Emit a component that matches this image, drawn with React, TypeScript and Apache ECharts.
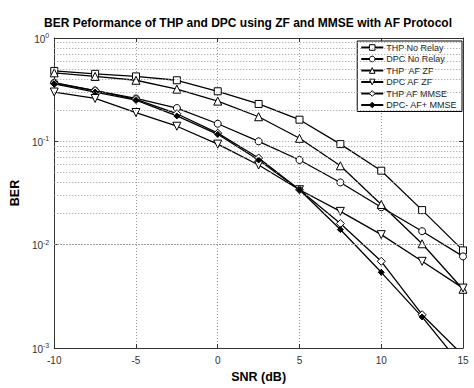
import React, { useEffect, useRef } from "react";
import * as echarts from "echarts";

const snr = [-10, -7.5, -5, -2.5, 0, 2.5, 5, 7.5, 10, 12.5, 15];
const thpNoRelay = [0.48, 0.45, 0.425, 0.39, 0.305, 0.23, 0.162, 0.094, 0.052, 0.0216, 0.0088];
const dpcNoRelay = [0.37, 0.31, 0.26, 0.21, 0.148, 0.1, 0.066, 0.04, 0.023, 0.0135, 0.0077];
const thpAfZf = [0.46, 0.425, 0.39, 0.32, 0.245, 0.173, 0.107, 0.058, 0.0245, 0.0102, 0.0037];
const dpcAfZf = [0.3, 0.26, 0.19, 0.14, 0.094, 0.059, 0.034, 0.021, 0.0125, 0.0069, 0.0038];
const thpAfMmse = [0.365, 0.31, 0.255, 0.185, 0.12, 0.069, 0.034, 0.016, 0.0069, 0.0021, 0.00085];
const dpcAfMmse = [0.36, 0.3, 0.25, 0.176, 0.117, 0.066, 0.034, 0.014, 0.0054, 0.002, 0.00065];
const seriesNames = ["THP No Relay", "DPC No Relay", "THP  AF ZF", "DPC AF ZF", "THP AF MMSE", "DPC- AF+ MMSE"];
const minorGrid = [0.2, 0.3, 0.4, 0.5, 0.6, 0.7, 0.8, 0.9, 0.02, 0.03, 0.04, 0.05, 0.06, 0.07, 0.08, 0.09, 0.002, 0.003, 0.004, 0.005, 0.006, 0.007, 0.008, 0.009];
const titleText = "BER Peformance of THP and DPC using ZF and MMSE with AF Protocol";

export default function App() {
  const ref = useRef<HTMLDivElement>(null);
  useEffect(() => {
    const chart = echarts.init(ref.current!, null, { renderer: "svg" });
    const font = "Liberation Sans, Arial, sans-serif";
    const filledFlags = [false, false, false, false, false, true];
    const mk = (name: string, data: number[], symbol: string, filled: boolean, rotate = 0, size = 7) => ({
      name,
      type: "line",
      data: snr.map((x, i) => [x, data[i]]),
      symbol,
      symbolSize: size,
      symbolRotate: rotate,
      showAllSymbol: true,
      color: "#000",
      lineStyle: { color: "#000", width: 1.3 },
      itemStyle: { color: filled ? "#000" : "#fff", borderColor: "#000", borderWidth: 1 },
      clip: true,
      z: 3,
    });
    const dotted = { color: "#999", type: [1, 2] as any, width: 1 };
    const axisCol = "#333";
    chart.setOption({
      animation: false,
      backgroundColor: "#fff",
      graphic: [
        {
          type: "text",
          x: 248,
          y: 23,
          style: {
            text: titleText,
            fontFamily: font,
            fontWeight: "bold",
            fontSize: 12,
            fill: "#000",
            textAlign: "center",
            textVerticalAlign: "middle",
          },
        },
      ],
      grid: { left: 34, right: 11, top: 38, bottom: 34 },
      legend: {
        orient: "vertical",
        right: 12,
        top: 41,
        itemGap: 2.5,
        itemWidth: 22,
        itemHeight: 7,
        padding: [2, 5, 2, 3],
        borderColor: "#000",
        borderWidth: 1,
        backgroundColor: "#fff",
        data: seriesNames.map((n, i) => ({
          name: n,
          itemStyle: { color: filledFlags[i] ? "#000" : "#fff", borderColor: "#000", borderWidth: 1 },
        })),
        textStyle: { fontFamily: "Liberation Sans Narrow, Arial Narrow, sans-serif", fontSize: 9, color: "#222", padding: [0, 0, 0, -2] },
      },
      xAxis: [
        {
          type: "value",
          min: -10,
          max: 15,
          interval: 5,
          name: "SNR (dB)",
          nameLocation: "middle",
          nameGap: 22,
          nameTextStyle: { fontFamily: font, fontWeight: "bold", fontSize: 12.5, color: "#000" },
          axisLine: { onZero: false, lineStyle: { color: axisCol } },
          axisTick: { inside: true, length: 4, lineStyle: { color: axisCol } },
          axisLabel: { fontFamily: font, fontSize: 10, color: "#333", margin: 7 },
          splitLine: { show: true, lineStyle: dotted },
        },
        {
          type: "value",
          position: "top",
          min: -10,
          max: 15,
          interval: 5,
          axisLine: { show: true, onZero: false, lineStyle: { color: axisCol } },
          axisTick: { show: true, inside: true, length: 4, lineStyle: { color: axisCol } },
          axisLabel: { show: false },
          splitLine: { show: false },
        },
      ],
      yAxis: [
        {
          type: "log",
          logBase: 10,
          min: 0.001,
          max: 1,
          interval: 1,
          name: "BER",
          nameLocation: "middle",
          nameGap: 20,
          nameTextStyle: { fontFamily: font, fontWeight: "bold", fontSize: 12.5, color: "#000" },
          axisLine: { show: true, onZero: false, lineStyle: { color: axisCol } },
          axisTick: { show: true, inside: true, length: 4, lineStyle: { color: axisCol } },
          axisLabel: {
            margin: 5,
            formatter: (v: number) => `{b|10}{e|${Math.round(Math.log10(v))}}`,
            rich: {
              b: { fontFamily: font, fontSize: 10, color: "#333", lineHeight: 12, verticalAlign: "bottom" },
              e: { fontFamily: font, fontSize: 7, color: "#333", lineHeight: 12, verticalAlign: "top", padding: [0, 0, 6, 0] },
            },
          },
          splitLine: { show: true, lineStyle: dotted },
        },
        {
          type: "log",
          logBase: 10,
          min: 0.001,
          max: 1,
          interval: 1,
          position: "right",
          axisLine: { show: true, onZero: false, lineStyle: { color: axisCol } },
          axisTick: { show: true, inside: true, length: 4, lineStyle: { color: axisCol } },
          axisLabel: { show: false },
          splitLine: { show: false },
        },
      ],
      series: [
        {
          name: "grid",
          type: "line",
          data: [],
          silent: true,
          markLine: {
            silent: true,
            symbol: "none",
            label: { show: false },
            lineStyle: dotted,
            data: minorGrid.map((v) => ({ yAxis: v })),
          },
          z: 1,
        },
        mk(seriesNames[0], thpNoRelay, "rect", false),
        mk(seriesNames[1], dpcNoRelay, "circle", false),
        mk(seriesNames[2], thpAfZf, "triangle", false, 0, 8),
        mk(seriesNames[3], dpcAfZf, "triangle", false, 180, 8),
        mk(seriesNames[4], thpAfMmse, "diamond", false, 0, 8),
        mk(seriesNames[5], dpcAfMmse, "diamond", true, 0, 6),
      ],
    });
    return () => chart.dispose();
  }, []);
  return <div ref={ref} style={{ position: "fixed", left: 0, top: 0, width: 474, height: 388 }} />;
}
